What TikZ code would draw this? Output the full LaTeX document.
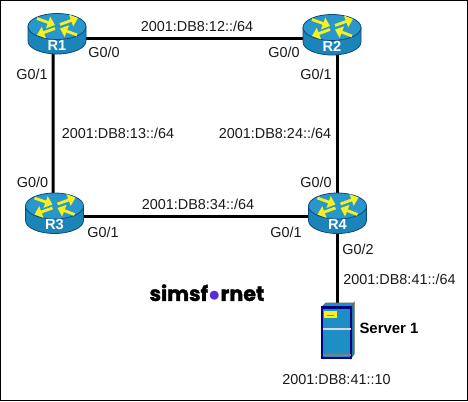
\documentclass[tikz,border=0pt]{standalone}
\usepackage{fontspec}
\setmainfont{Liberation Sans}
\newfontfamily\logofont[BoldFeatures={FakeBold=1.5}]{Poppins}
\usetikzlibrary{backgrounds,arrows.meta}
\definecolor{rblue}{HTML}{1B84B8}
\definecolor{rtop}{HTML}{2A97CC}
\definecolor{redge}{HTML}{0B4A78}
\definecolor{ryel}{HTML}{F5F01E}
\definecolor{srvb}{HTML}{1E8FC4}
\definecolor{srvl}{HTML}{6B6B55}
\definecolor{logop}{HTML}{5A2BD0}
\tikzset{
  x=0.75pt,y=-0.75pt,
  lbl/.style={font=\fontsize{10.8pt}{12pt}\selectfont,inner sep=0pt,text=black!90},
  routerlabel/.style={font=\fontsize{11pt}{12pt}\selectfont\bfseries,text=white,inner sep=0pt},
  routerbox/.style={minimum width=43.5pt,minimum height=30.75pt,inner sep=0pt},
  link/.style={draw=black,line width=2.25pt},
  yarrow/.style={draw=ryel,line width=2.1pt,-{Triangle[length=5.5pt,width=9pt,fill=ryel]}},
}
\newcommand{\routerdraw}[2]{%
  \begin{scope}[shift={(#1,#2)}]
    \fill[rblue,draw=redge,line width=0.6pt] (-29,-7.5) -- (-29,7) arc[start angle=180,end angle=360,x radius=21.75pt,y radius=9.75pt] -- (29,-7.5) -- cycle;
    \fill[rtop,draw=redge,line width=0.6pt] (0,-7.5) ellipse[x radius=21.75pt,y radius=9.75pt];
    \draw[yarrow] (-20,-15.5) -- (-2,-9);
    \draw[yarrow] (3,-9.5) -- (21,-16);
    \draw[yarrow] (-2,-5.5) -- (-20,1);
    \draw[yarrow] (20,1) -- (3,-5.5);
  \end{scope}
}
\newcommand{\rlabel}[1]{\smash{\raisebox{-12pt}{#1}}}
\begin{document}
\begin{tikzpicture}
\useasboundingbox (0,0) rectangle (468,401);
\draw[black,line width=1.1pt] (0.6,0.6) rectangle (467.4,400.4);
% routers
\routerdraw{57}{34}
\routerdraw{332}{35}
\routerdraw{54.5}{213.5}
\routerdraw{337.5}{213.5}
\node[routerbox,routerlabel] (R1) at (57,34) {\rlabel{R1}};
\node[routerbox,routerlabel] (R2) at (332,35) {\rlabel{R2}};
\node[routerbox,routerlabel] (R3) at (54.5,213.5) {\rlabel{R3}};
\node[routerbox,routerlabel] (R4) at (337.5,213.5) {\rlabel{R4}};
% server
\fill[srvb,draw=srvl,line width=0.7pt] (322,307) -- (326,303) -- (354,303) -- (351,307) -- cycle;
\fill[srvb!85!black,draw=srvl,line width=0.8pt] (351,307) -- (354,303) -- (354,354) -- (351,358) -- cycle;
\fill[srvb,draw=black!50!blue,line width=0.8pt] (322,307) rectangle (351,358);
\draw[black!50!blue,line width=1pt] (322.5,308.5) -- (350.5,308.5);
\draw[white!70!gray,line width=1pt] (323,329) -- (350.5,329);
\draw[gray,line width=1pt] (323,355) -- (350.5,355);
\fill[ryel] (323.5,311) rectangle (337,317.5);
\draw[green!50!black!70,line width=0.6pt] (327,315) -- (334,315);
\node[minimum width=21.75pt,minimum height=38pt,inner sep=0pt] (S1) at (336.5,332) {};
% links
\begin{scope}[on background layer]
\draw[link] ([yshift=-3pt]R1.center) -- ([yshift=-2.25pt]R2.center);
\draw[link] ([xshift=-3pt]R1.center) -- ([xshift=-1.1pt]R3.center);
\draw[link] ([xshift=4.125pt]R2.center) -- (R4.center);
\draw[link] ([yshift=-2.6pt]R3.center) -- ([yshift=-2.6pt]R4.center);
\draw[link] (R4.center) -- (S1.north -| R4.center);
\end{scope}
% labels
\node[lbl] (a1) at (197,26.5) {2001:DB8:12::/64};
\node[lbl] (a2) at (118,133) {2001:DB8:13::/64};
\node[lbl] (a3) at (275,133) {2001:DB8:24::/64};
\node[lbl] (a4) at (198,204) {2001:DB8:34::/64};
\node[lbl] (a5) at (399.5,279) {2001:DB8:41::/64};
\node[lbl] (a6) at (336.5,380) {2001:DB8:41::10};
\node[lbl] (i1) at (104,52) {G0/0};
\node[lbl] (i2) at (284,52) {G0/0};
\node[lbl] (i3) at (32,74) {G0/1};
\node[lbl] (i4) at (316,74) {G0/1};
\node[lbl] (i5) at (32.5,182) {G0/0};
\node[lbl] (i6) at (316,182) {G0/0};
\node[lbl] (i7) at (103,232) {G0/1};
\node[lbl] (i8) at (286,232) {G0/1};
\node[lbl] (i9) at (358,249) {G0/2};
\node[font=\fontsize{11.2pt}{12pt}\selectfont\bfseries,inner sep=0pt] (srv) at (389,328) {Server 1};
% logo
\node[font=\logofont\fontsize{15.5pt}{16pt}\selectfont\bfseries,inner sep=0pt] (logo) at (207,293) {simsf\textcolor{logop}{\raisebox{-0.5pt}{\setmainfont{Liberation Sans}\normalfont ●}}rnet};
\end{tikzpicture}
\end{document}
